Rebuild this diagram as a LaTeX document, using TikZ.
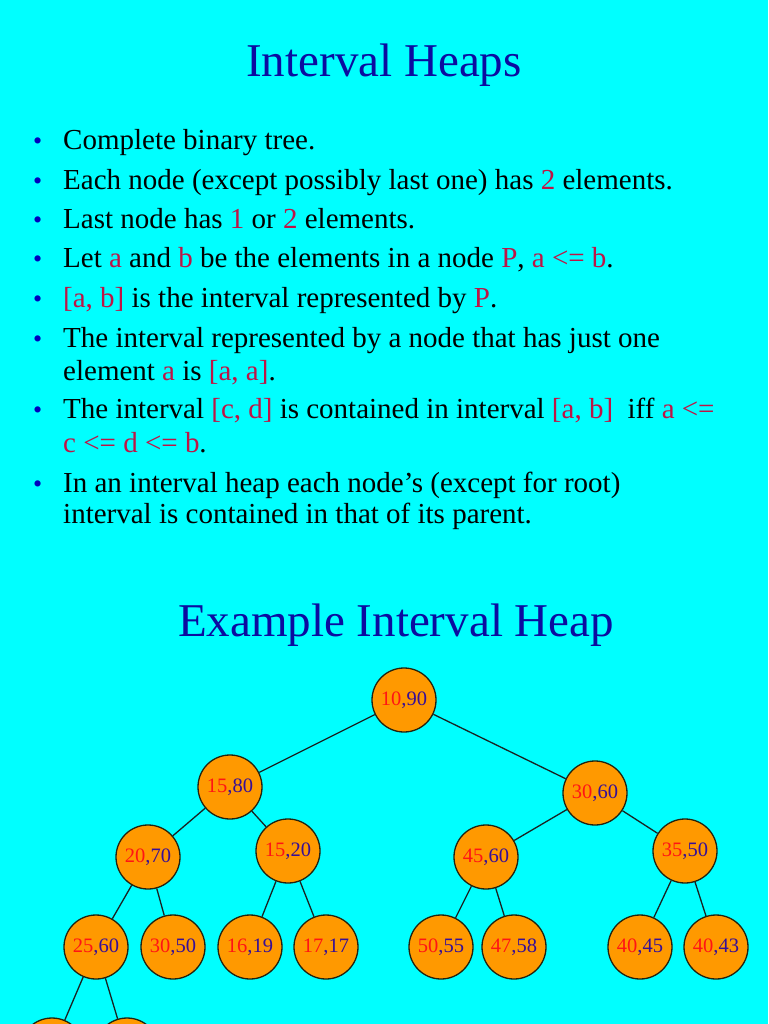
\documentclass[tikz,border=0pt]{standalone}
\usepackage{fontspec}
\setmainfont{Liberation Serif}
\usetikzlibrary{positioning}
\definecolor{slidebg}{RGB}{0,255,255}
\definecolor{titleblue}{RGB}{12,12,160}
\definecolor{dotblue}{RGB}{0,0,190}
\definecolor{hilite}{RGB}{190,20,70}
\definecolor{lored}{RGB}{255,20,20}
\definecolor{hiblue}{RGB}{55,15,150}
\definecolor{heaporange}{RGB}{255,153,0}
\definecolor{nodeline}{RGB}{35,35,15}
\definecolor{edgegray}{RGB}{25,35,35}
\newcommand{\hlt}[1]{\textcolor{hilite}{#1}}
\newcommand{\ivl}[2]{\textcolor{lored}{#1}\textcolor{hiblue}{,}\textcolor{hiblue}{#2}}
\tikzset{
	titletext/.style={font=\fontsize{47}{56}\selectfont, text=titleblue, anchor=base, inner sep=0pt},
	itemtext/.style={font=\fontsize{29}{34}\selectfont, anchor=base west, inner sep=0pt},
	itemdot/.style={font=\fontsize{26}{30}\selectfont, text=dotblue, anchor=base west, inner sep=0pt},
	heapnode/.style={circle, draw=nodeline, line width=1.3pt, fill=heaporange, minimum size=64pt, inner sep=0pt, font=\fontsize{20.5}{24}\selectfont},
	heapedge/.style={draw=edgegray, line width=1.3pt},
}

\begin{document}
\begin{tikzpicture}[x=1pt, y=-1pt]
	\useasboundingbox (0,0) rectangle (768,1024);
	\clip (0,0) rectangle (768,1024);
	\fill[slidebg] (0,0) rectangle (768,1024);

	% titles
	\node[titletext] (title) at (384,77) {Interval Heaps};
	\node[titletext] (extitle) at (396,636) {Example Interval Heap};

	% bullet list
	\foreach \y in {150,190,229,267,307,347,418,492}
		\node[itemdot] at (33,\y) {•};
	\node[itemtext] (i1) at (63,150) {Complete binary tree.};
	\node[itemtext] (i2) at (63,190) {Each node (except possibly last one) has \hlt{2} elements.};
	\node[itemtext] (i3) at (63,229) {Last node has \hlt{1} or \hlt{2} elements.};
	\node[itemtext] (i4) at (63,267) {Let \hlt{a} and \hlt{b} be the elements in a node \hlt{P}, \hlt{a <= b}.};
	\node[itemtext] (i5) at (63,307) {\hlt{[a, b]} is the interval represented by \hlt{P}.};
	\node[itemtext] (i6) at (63,347) {The interval represented by a node that has just one};
	\node[itemtext] (i6b) at (63,380) {element \hlt{a} is \hlt{[a, a]}.};
	\node[itemtext] (i7) at (63,418) {The interval \hlt{[c, d]} is contained in interval \hlt{[a, b]}~ iff \hlt{a <=}};
	\node[itemtext] (i7b) at (63,452) {\hlt{c <= d <= b}.};
	\node[itemtext] (i8) at (63,492) {In an interval heap each node’s (except for root)};
	\node[itemtext] (i8b) at (63,523) {interval is contained in that of its parent.};

	% heap
	\node[heapnode] (r) at (404,700) {\ivl{10}{90}};
	\node[heapnode] (a) at (230,787) {\ivl{15}{80}};
	\node[heapnode] (b) at (595,793) {\ivl{30}{60}};
	\node[heapnode] (aa) at (148,857) {\ivl{20}{70}};
	\node[heapnode] (ab) at (288,851) {\ivl{15}{20}};
	\node[heapnode] (ba) at (486,857) {\ivl{45}{60}};
	\node[heapnode] (bb) at (685,851) {\ivl{35}{50}};
	\node[heapnode] (aaa) at (96,947) {\ivl{25}{60}};
	\node[heapnode] (aab) at (173,947) {\ivl{30}{50}};
	\node[heapnode] (aba) at (250,947) {\ivl{16}{19}};
	\node[heapnode] (abb) at (326,947) {\ivl{17}{17}};
	\node[heapnode] (baa) at (441,947) {\ivl{50}{55}};
	\node[heapnode] (bab) at (514,947) {\ivl{47}{58}};
	\node[heapnode] (bba) at (640,947) {\ivl{40}{45}};
	\node[heapnode] (bbb) at (716,947) {\ivl{40}{43}};
	\node[heapnode] (aaaa) at (52,1050) {};
	\node[heapnode] (aaab) at (127,1050) {};
	\foreach \p/\c in {r/a, r/b, a/aa, a/ab, b/ba, b/bb, aa/aaa, aa/aab, ab/aba, ab/abb, ba/baa, ba/bab, bb/bba, bb/bbb, aaa/aaaa, aaa/aaab}
		\draw[heapedge] (\p) -- (\c);
\end{tikzpicture}
\end{document}
